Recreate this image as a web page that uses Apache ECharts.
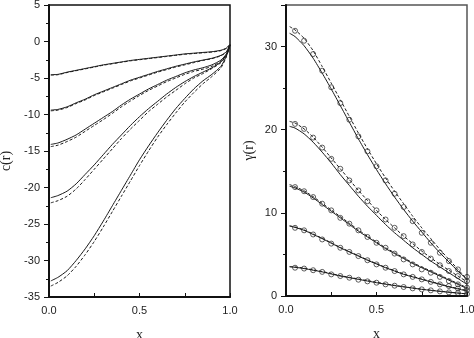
<!DOCTYPE html>
<html><head><meta charset="utf-8">
<script src="https://cdn.jsdelivr.net/npm/echarts@6/dist/echarts.min.js"></script>
<style>html,body{margin:0;padding:0;background:#fff}#c{width:474px;height:338px}</style>
</head><body><div id="c"></div>
<script>
// Left panel: c(r)
const xLeft = [0.01,0.05,0.1,0.15,0.2,0.25,0.3,0.35,0.4,0.45,0.5,0.55,0.6,0.65,0.7,0.75,0.8,0.85,0.9,0.95,0.98,1.0];
const cSolid1 = [-4.55,-4.5,-4.2,-3.95,-3.7,-3.45,-3.2,-3.0,-2.8,-2.6,-2.45,-2.3,-2.15,-2.0,-1.85,-1.7,-1.6,-1.5,-1.4,-1.2,-0.9,-0.4];
const cDash1  = [-4.6,-4.55,-4.25,-4.0,-3.75,-3.5,-3.25,-3.05,-2.85,-2.65,-2.5,-2.35,-2.2,-2.05,-1.9,-1.75,-1.65,-1.55,-1.45,-1.25,-0.95,-0.4];
const cSolid2 = [-9.4,-9.3,-8.95,-8.4,-7.9,-7.3,-6.8,-6.3,-5.8,-5.3,-4.9,-4.5,-4.1,-3.75,-3.4,-3.1,-2.8,-2.55,-2.3,-1.9,-1.4,-0.45];
const cDash2  = [-9.5,-9.4,-9.05,-8.5,-8.0,-7.4,-6.9,-6.4,-5.9,-5.4,-5.0,-4.6,-4.2,-3.85,-3.5,-3.2,-2.9,-2.6,-2.35,-1.95,-1.45,-0.45];
const cSolid3 = [-14.1,-13.9,-13.4,-12.8,-12.0,-11.2,-10.4,-9.6,-8.7,-7.9,-7.2,-6.5,-5.9,-5.3,-4.8,-4.3,-3.9,-3.6,-3.2,-2.55,-1.7,-0.5];
const cDash3  = [-14.4,-14.2,-13.7,-13.1,-12.3,-11.5,-10.7,-9.85,-8.95,-8.15,-7.4,-6.7,-6.1,-5.5,-5.0,-4.5,-4.1,-3.8,-3.4,-2.7,-1.8,-0.5];
const cSolid4 = [-21.4,-21.1,-20.5,-19.5,-18.2,-16.9,-15.5,-14.1,-12.8,-11.5,-10.3,-9.2,-8.2,-7.2,-6.3,-5.5,-4.8,-4.2,-3.6,-2.8,-1.8,-0.5];
const cDash4  = [-22.1,-21.8,-21.2,-20.2,-18.9,-17.5,-16.1,-14.7,-13.3,-12.0,-10.8,-9.6,-8.6,-7.6,-6.7,-5.8,-5.0,-4.4,-3.7,-2.9,-1.9,-0.5];
const cSolid5 = [-32.8,-32.3,-31.4,-30.0,-28.4,-26.6,-24.6,-22.5,-20.4,-18.3,-16.2,-14.3,-12.5,-10.8,-9.2,-7.8,-6.5,-5.4,-4.5,-3.4,-2.0,-0.5];
const cDash5  = [-33.5,-33.0,-32.1,-30.8,-29.2,-27.4,-25.4,-23.3,-21.2,-19.1,-17.0,-15.0,-13.1,-11.4,-9.8,-8.3,-7.0,-5.8,-4.8,-3.6,-2.1,-0.5];

// Right panel: gamma(r)
const xRight = [0.02,0.05,0.1,0.15,0.2,0.25,0.3,0.35,0.4,0.45,0.5,0.55,0.6,0.65,0.7,0.75,0.8,0.85,0.9,0.95,1.0];
const gSolid1 = [31.6,31.2,30.1,28.6,26.8,24.9,22.9,20.9,18.9,17.0,15.2,13.5,11.9,10.4,9.0,7.7,6.4,5.2,4.1,3.0,2.0];
const gDash1  = [32.4,32.0,31.0,29.5,27.6,25.6,23.6,21.6,19.6,17.7,15.9,14.2,12.6,11.1,9.6,8.2,6.9,5.6,4.4,3.2,2.0];
const gSolid2 = [20.4,20.2,19.5,18.5,17.3,16.0,14.6,13.3,12.0,10.8,9.7,8.6,7.6,6.7,5.8,5.0,4.2,3.5,2.8,2.1,1.4];
const gDash2  = [21.0,20.8,20.1,19.1,17.9,16.6,15.3,14.0,12.7,11.5,10.3,9.2,8.2,7.2,6.3,5.4,4.6,3.8,3.1,2.4,1.7];
const gSolid3 = [13.2,13.0,12.5,11.8,11.0,10.2,9.4,8.6,7.8,7.1,6.4,5.7,5.1,4.5,3.9,3.4,2.9,2.4,1.9,1.4,0.9];
const gDash3  = [13.4,13.15,12.65,11.95,11.15,10.35,9.55,8.75,7.95,7.2,6.5,5.8,5.2,4.6,4.0,3.5,3.0,2.5,2.0,1.5,1.0];
const gSolid4 = [8.4,8.25,7.9,7.4,6.9,6.35,5.8,5.3,4.8,4.3,3.85,3.4,3.0,2.6,2.3,2.0,1.7,1.4,1.1,0.85,0.6];
const gDash4  = [8.45,8.3,7.95,7.45,6.95,6.4,5.85,5.35,4.85,4.35,3.9,3.45,3.05,2.65,2.35,2.05,1.75,1.45,1.15,0.9,0.65];
const gSolid5 = [3.5,3.45,3.3,3.1,2.9,2.65,2.4,2.2,2.0,1.8,1.6,1.42,1.25,1.1,0.95,0.8,0.68,0.56,0.45,0.35,0.25];
const gDash5  = [3.55,3.5,3.35,3.15,2.95,2.7,2.45,2.25,2.05,1.85,1.65,1.46,1.28,1.12,0.97,0.82,0.7,0.58,0.47,0.36,0.26];
const xPts = [0.05,0.1,0.15,0.2,0.25,0.3,0.35,0.4,0.45,0.5,0.55,0.6,0.65,0.7,0.75,0.8,0.85,0.9,0.95,1.0];
const gPts1 = [31.9,30.7,29.1,27.1,25.1,23.2,21.2,19.2,17.4,15.6,13.9,12.3,10.7,9.0,7.6,6.4,5.2,4.2,3.2,2.3];
const gPts2 = [20.7,20.1,19.05,17.85,16.5,15.3,13.9,12.7,11.4,10.3,9.2,8.2,7.2,6.2,5.3,4.5,3.7,3.0,2.4,1.8];
const gPts3 = [13.1,12.6,11.9,11.1,10.3,9.4,8.7,7.9,7.1,6.4,5.8,5.1,4.4,3.8,3.2,2.8,2.3,1.8,1.4,1.0];
const gPts4 = [8.2,7.9,7.4,6.8,6.3,5.8,5.3,4.8,4.3,3.8,3.4,3.0,2.6,2.3,2.0,1.7,1.4,1.2,0.9,0.7];
const gPts5 = [3.4,3.3,3.1,2.9,2.6,2.4,2.2,1.96,1.76,1.6,1.4,1.24,1.08,0.92,0.8,0.68,0.56,0.44,0.36,0.24];

const xTicks = [0, 0.5, 1.0];

const zip = (xs, ys) => xs.map((x, i) => [x, ys[i]]);
const LINE = '#1a1a1a';
function lineSeries(xs, ys, dashed, gi) {
  return {
    type: 'line', xAxisIndex: gi, yAxisIndex: gi, data: zip(xs, ys),
    showSymbol: false, symbol: 'none', smooth: 0.2,
    lineStyle: { color: LINE, width: 1, type: dashed ? [3, 2] : 'solid' },
    z: 3, silent: true, animation: false
  };
}
function ptSeries(xs, ys) {
  return {
    type: 'scatter', xAxisIndex: 1, yAxisIndex: 1, data: zip(xs, ys),
    symbol: 'circle', symbolSize: 5,
    itemStyle: { color: 'transparent', borderColor: '#222', borderWidth: 0.9 },
    z: 4, silent: true, animation: false
  };
}

const labelFont = { fontFamily: 'Liberation Sans, Arial, sans-serif', fontSize: 11, color: '#222' };
const nameFont = { fontFamily: 'Liberation Serif, Times New Roman, serif', fontSize: 14, color: '#222' };

function xAxis(gi) {
  return {
    type: 'value', gridIndex: gi, min: 0, max: 1, interval: 0.5,
    name: 'x', nameLocation: 'middle', nameGap: 31, nameTextStyle: nameFont,
    axisLine: { onZero: false, lineStyle: { color: '#111', width: 2 } },
    axisTick: { inside: true, length: 4, lineStyle: { color: '#111', width: 1 } },
    minorTick: { show: true, splitNumber: 2, length: 4, lineStyle: { color: '#111', width: 1 } },
    axisLabel: Object.assign({ margin: 8, formatter: v => (xTicks.indexOf(v) >= 0 ? v.toFixed(1) : '') }, labelFont),
    splitLine: { show: false }
  };
}

const series = [];
[[cSolid1, cDash1],[cSolid2, cDash2],[cSolid3, cDash3],[cSolid4, cDash4],[cSolid5, cDash5]].forEach(([s, d]) => {
  series.push(lineSeries(xLeft, s, false, 0));
  series.push(lineSeries(xLeft, d, true, 0));
});
[[gSolid1, gDash1, gPts1],[gSolid2, gDash2, gPts2],[gSolid3, gDash3, gPts3],[gSolid4, gDash4, gPts4],[gSolid5, gDash5, gPts5]].forEach(([s, d, p]) => {
  series.push(lineSeries(xRight, s, false, 1));
  series.push(lineSeries(xRight, d, true, 1));
  series.push(ptSeries(xPts, p));
});

const chart = echarts.init(document.getElementById('c'), null, { renderer: 'canvas' });
chart.setOption({
  animation: false,
  backgroundColor: '#fff',
  grid: [
    { left: 49, right: 244, top: 5, bottom: 41, show: true, borderColor: '#111', borderWidth: 1.5, outerBoundsMode: 'none', containLabel: false },
    { left: 286, right: 7, top: 5, bottom: 42, show: true, borderColor: '#555', borderWidth: 1.5, outerBoundsMode: 'none', containLabel: false }
  ],
  xAxis: [xAxis(0), xAxis(1)],
  yAxis: [
    {
      type: 'value', gridIndex: 0, min: -35, max: 5, interval: 5,
      name: 'c(r)', nameLocation: 'middle', nameGap: 36, nameRotate: 90,
      nameTextStyle: Object.assign({ padding: [0, 20, 0, 0] }, nameFont),
      axisLine: { show: true, onZero: false, lineStyle: { color: '#111', width: 2 } },
      axisTick: { show: true, inside: false, length: 5, lineStyle: { color: '#111', width: 1 } },
      minorTick: { show: true, splitNumber: 2, length: 3, lineStyle: { color: '#111', width: 1 } },
      axisLabel: Object.assign({ margin: 9 }, labelFont),
      splitLine: { show: false }
    },
    {
      type: 'value', gridIndex: 1, min: 0, max: 35, interval: 10,
      name: 'γ(r)', nameLocation: 'middle', nameGap: 30, nameRotate: 90, nameTextStyle: nameFont,
      axisLine: { show: true, onZero: false, lineStyle: { color: '#111', width: 2 } },
      axisTick: { show: true, inside: false, length: 5, lineStyle: { color: '#111', width: 1 } },
      minorTick: { show: true, splitNumber: 2, length: 3, lineStyle: { color: '#111', width: 1 } },
      axisLabel: Object.assign({ margin: 9, showMaxLabel: false }, labelFont),
      splitLine: { show: false }
    }
  ],
  series: series
});
</script>
</body></html>
